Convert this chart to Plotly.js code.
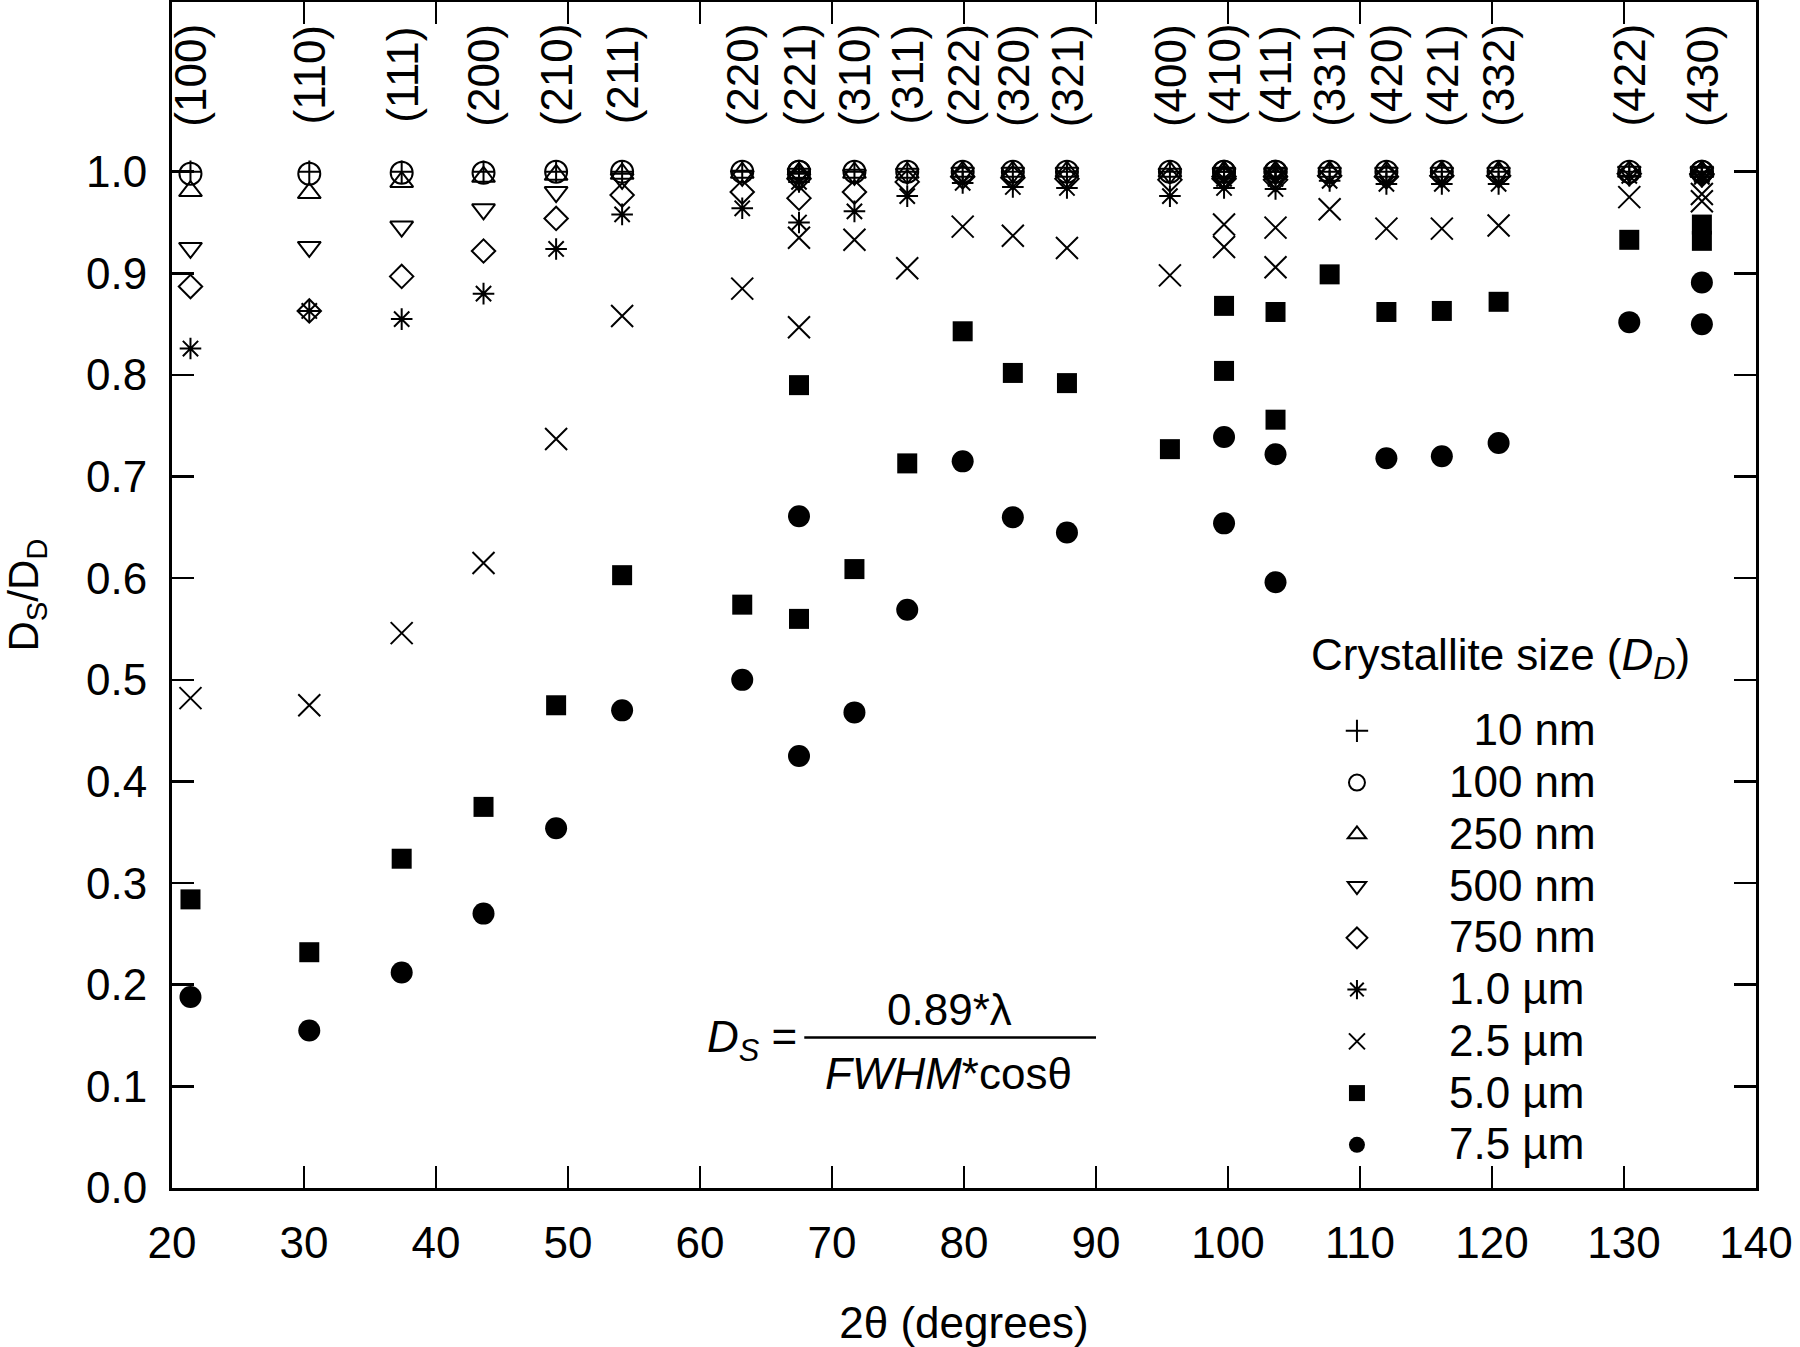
<!DOCTYPE html>
<html>
<head>
<meta charset="utf-8">
<script src="https://cdn.plot.ly/plotly-3.0.1.min.js"></script>
<style>html,body{margin:0;padding:0;background:#fff;}#chart{width:1800px;height:1347px;}</style>
</head>
<body>
<div id="chart"></div>
<script>
// 2θ positions of each data point (duplicated where two reflections coincide)
const twoTheta = [21.4, 30.4, 37.4, 43.6, 49.1, 54.1, 63.2, 67.5, 67.5, 71.7, 75.7, 79.9, 83.7, 87.8, 95.6, 99.7, 99.7, 103.6, 103.6, 107.7, 112.0, 116.2, 120.5, 130.4, 135.9, 135.9];
// Peak positions and Miller-index labels along the top
const peakPos = [21.4, 30.4, 37.4, 43.6, 49.1, 54.1, 63.2, 67.5, 71.7, 75.7, 79.9, 83.7, 87.8, 95.6, 99.7, 103.6, 107.7, 112.0, 116.2, 120.5, 130.4, 135.9];
const hklLabels = ['(100)', '(110)', '(111)', '(200)', '(210)', '(211)', '(220)', '(221)', '(310)', '(311)', '(222)', '(320)', '(321)', '(400)', '(410)', '(411)', '(331)', '(420)', '(421)', '(332)', '(422)', '(430)'];

// Series names (crystallite size D_D)
const seriesNames = ['\u200710 nm', '100 nm', '250 nm', '500 nm', '750 nm', '1.0 µm', '2.5 µm', '5.0 µm', '7.5 µm'];

// D_S/D_D values
const nm10 = [1.0, 1.0, 1.0, 1.0, 1.0, 1.0, 1.0, 1.0, 1.0, 1.0, 1.0, 1.0, 1.0, 1.0, 1.0, 1.0, 1.0, 1.0, 1.0, 1.0, 1.0, 1.0, 1.0, 1.0, 1.0, 1.0];
const nm100 = [0.998, 0.998, 0.999, 0.999, 1.0, 1.0, 1.0, 1.0, 1.0, 1.0, 1.0, 1.0, 1.0, 1.0, 1.0, 1.0, 1.0, 1.0, 1.0, 1.0, 1.0, 1.0, 1.0, 1.0, 1.0, 1.0];
const nm250 = [0.981, 0.979, 0.990, 0.995, 0.997, 0.998, 0.999, 0.999, 0.998, 0.999, 0.999, 1.0, 1.0, 1.0, 1.0, 1.0, 1.0, 1.0, 1.0, 1.0, 1.0, 1.0, 1.0, 1.0, 1.0, 1.0];
const nm500 = [0.925, 0.926, 0.946, 0.963, 0.980, 0.993, 0.996, 0.998, 0.993, 0.997, 0.998, 0.999, 0.999, 0.999, 0.998, 0.999, 0.998, 0.999, 0.998, 0.999, 0.999, 0.999, 0.999, 1.0, 1.0, 0.999];
const nm750 = [0.887, 0.863, 0.897, 0.922, 0.954, 0.977, 0.980, 0.993, 0.974, 0.980, 0.990, 0.995, 0.994, 0.993, 0.992, 0.995, 0.993, 0.995, 0.992, 0.996, 0.995, 0.996, 0.996, 0.998, 0.998, 0.997];
const um1_0 = [0.826, 0.863, 0.855, 0.880, 0.924, 0.958, 0.964, 0.990, 0.950, 0.961, 0.976, 0.989, 0.985, 0.984, 0.976, 0.993, 0.984, 0.993, 0.983, 0.991, 0.988, 0.988, 0.988, 0.996, 0.997, 0.995];
const um2_5 = [0.482, 0.475, 0.546, 0.615, 0.737, 0.858, 0.885, 0.935, 0.847, 0.933, 0.905, 0.946, 0.937, 0.925, 0.898, 0.948, 0.926, 0.945, 0.906, 0.963, 0.944, 0.944, 0.947, 0.975, 0.978, 0.971];
const um5_0 = [0.284, 0.232, 0.324, 0.375, 0.475, 0.603, 0.574, 0.790, 0.560, 0.609, 0.713, 0.843, 0.802, 0.792, 0.727, 0.868, 0.804, 0.862, 0.756, 0.899, 0.862, 0.863, 0.872, 0.933, 0.948, 0.932];
const um7_5 = [0.188, 0.155, 0.212, 0.270, 0.354, 0.470, 0.500, 0.661, 0.425, 0.468, 0.569, 0.715, 0.660, 0.645, null, 0.739, 0.654, 0.722, 0.596, null, 0.718, 0.720, 0.733, 0.852, 0.891, 0.850];

const yTicks = [0.0, 0.1, 0.2, 0.3, 0.4, 0.5, 0.6, 0.7, 0.8, 0.9, 1.0];
const yTickText = yTicks.map(v => v.toFixed(1));

const seriesValues = [nm10, nm100, nm250, nm500, nm750, um1_0, um2_5, um5_0, um7_5];
const symbols = ['cross-thin-open', 'circle-open', 'triangle-up-open', 'triangle-down-open', 'diamond-open', 'asterisk-open', 'x-thin-open', 'square', 'circle'];
const sizes = [16, 22, 20, 20, 18, 18, 22, 20, 22];

const FONT = 'Liberation Sans, Arial, Helvetica, sans-serif';

const traces = seriesValues.map((vals, i) => ({
  type: 'scatter',
  mode: 'markers',
  x: twoTheta,
  y: vals,
  name: '<span style="font-size:44px">' + seriesNames[i] + '</span>',
  marker: {
    symbol: symbols[i],
    size: sizes[i],
    color: 'black',
    line: {color: 'black', width: (i >= 7 ? 0 : 2)}
  },
  hoverinfo: 'x+y+name'
}));

const annotations = peakPos.map((p, i) => ({
  x: p, y: 1.095, xref: 'x', yref: 'y',
  text: hklLabels[i], textangle: -90, showarrow: false,
  font: {family: FONT, size: 44, color: 'black'},
  xanchor: 'center', yanchor: 'middle'
}));

// Formula
annotations.push({
  x: 67.5, y: 0.146, xref: 'x', yref: 'y', xanchor: 'right', yanchor: 'middle',
  text: '<i>D</i><sub><i>S</i></sub> =', showarrow: false,
  font: {family: FONT, size: 44, color: 'black'}
});
annotations.push({
  x: 78.9, y: 0.176, xref: 'x', yref: 'y', xanchor: 'center', yanchor: 'middle',
  text: '0.89*λ', showarrow: false,
  font: {family: FONT, size: 44, color: 'black'}
});
annotations.push({
  x: 78.8, y: 0.113, xref: 'x', yref: 'y', xanchor: 'center', yanchor: 'middle',
  text: '<i>FWHM</i>*cosθ', showarrow: false,
  font: {family: FONT, size: 44, color: 'black'}
});
// Legend title
annotations.push({
  x: 0.7176, y: 0.447, xref: 'paper', yref: 'paper', xanchor: 'left', yanchor: 'middle',
  text: 'Crystallite size (<i>D<sub>D</sub></i>)', showarrow: false,
  font: {family: FONT, size: 44, color: 'black'}
});

const axisCommon = {
  showgrid: false, zeroline: false,
  showline: true, linecolor: 'black', linewidth: 3,
  mirror: 'ticks', ticks: 'inside', ticklen: 22, tickwidth: 2.5, tickcolor: 'black',
  tickfont: {family: FONT, size: 44, color: 'black'},
  automargin: false
};

const layout = {
  width: 1800, height: 1347,
  margin: {l: 172, r: 44, t: 2, b: 159},
  paper_bgcolor: 'white', plot_bgcolor: 'white',
  font: {family: FONT, color: 'black'},
  showlegend: true,
  legend: {
    x: 0.690, y: 0.4115, xanchor: 'left', yanchor: 'top',
    bgcolor: 'rgba(0,0,0,0)', borderwidth: 0,
    font: {family: FONT, size: 37.5, color: 'black'},
    itemwidth: 174, tracegroupgap: 0
  },
  xaxis: Object.assign({}, axisCommon, {
    range: [20, 140], tick0: 0, dtick: 10,
    ticklabelstandoff: 14,
    title: {text: '2θ (degrees)', font: {family: FONT, size: 44, color: 'black'}, standoff: 42}
  }),
  yaxis: Object.assign({}, axisCommon, {
    range: [0, 1.167], tickmode: 'array', tickvals: yTicks, ticktext: yTickText,
    ticklabelstandoff: 13,
    title: {text: 'D<sub>S</sub>/D<sub>D</sub>', font: {family: FONT, size: 42, color: 'black'}, standoff: 43}
  }),
  annotations: annotations,
  shapes: [{
    type: 'line', xref: 'x', yref: 'y', x0: 67.9, x1: 90.0, y0: 0.148, y1: 0.148,
    line: {color: 'black', width: 2.5}
  }]
};

Plotly.newPlot('chart', traces, layout, {displayModeBar: false, staticPlot: true});
</script>
</body>
</html>
